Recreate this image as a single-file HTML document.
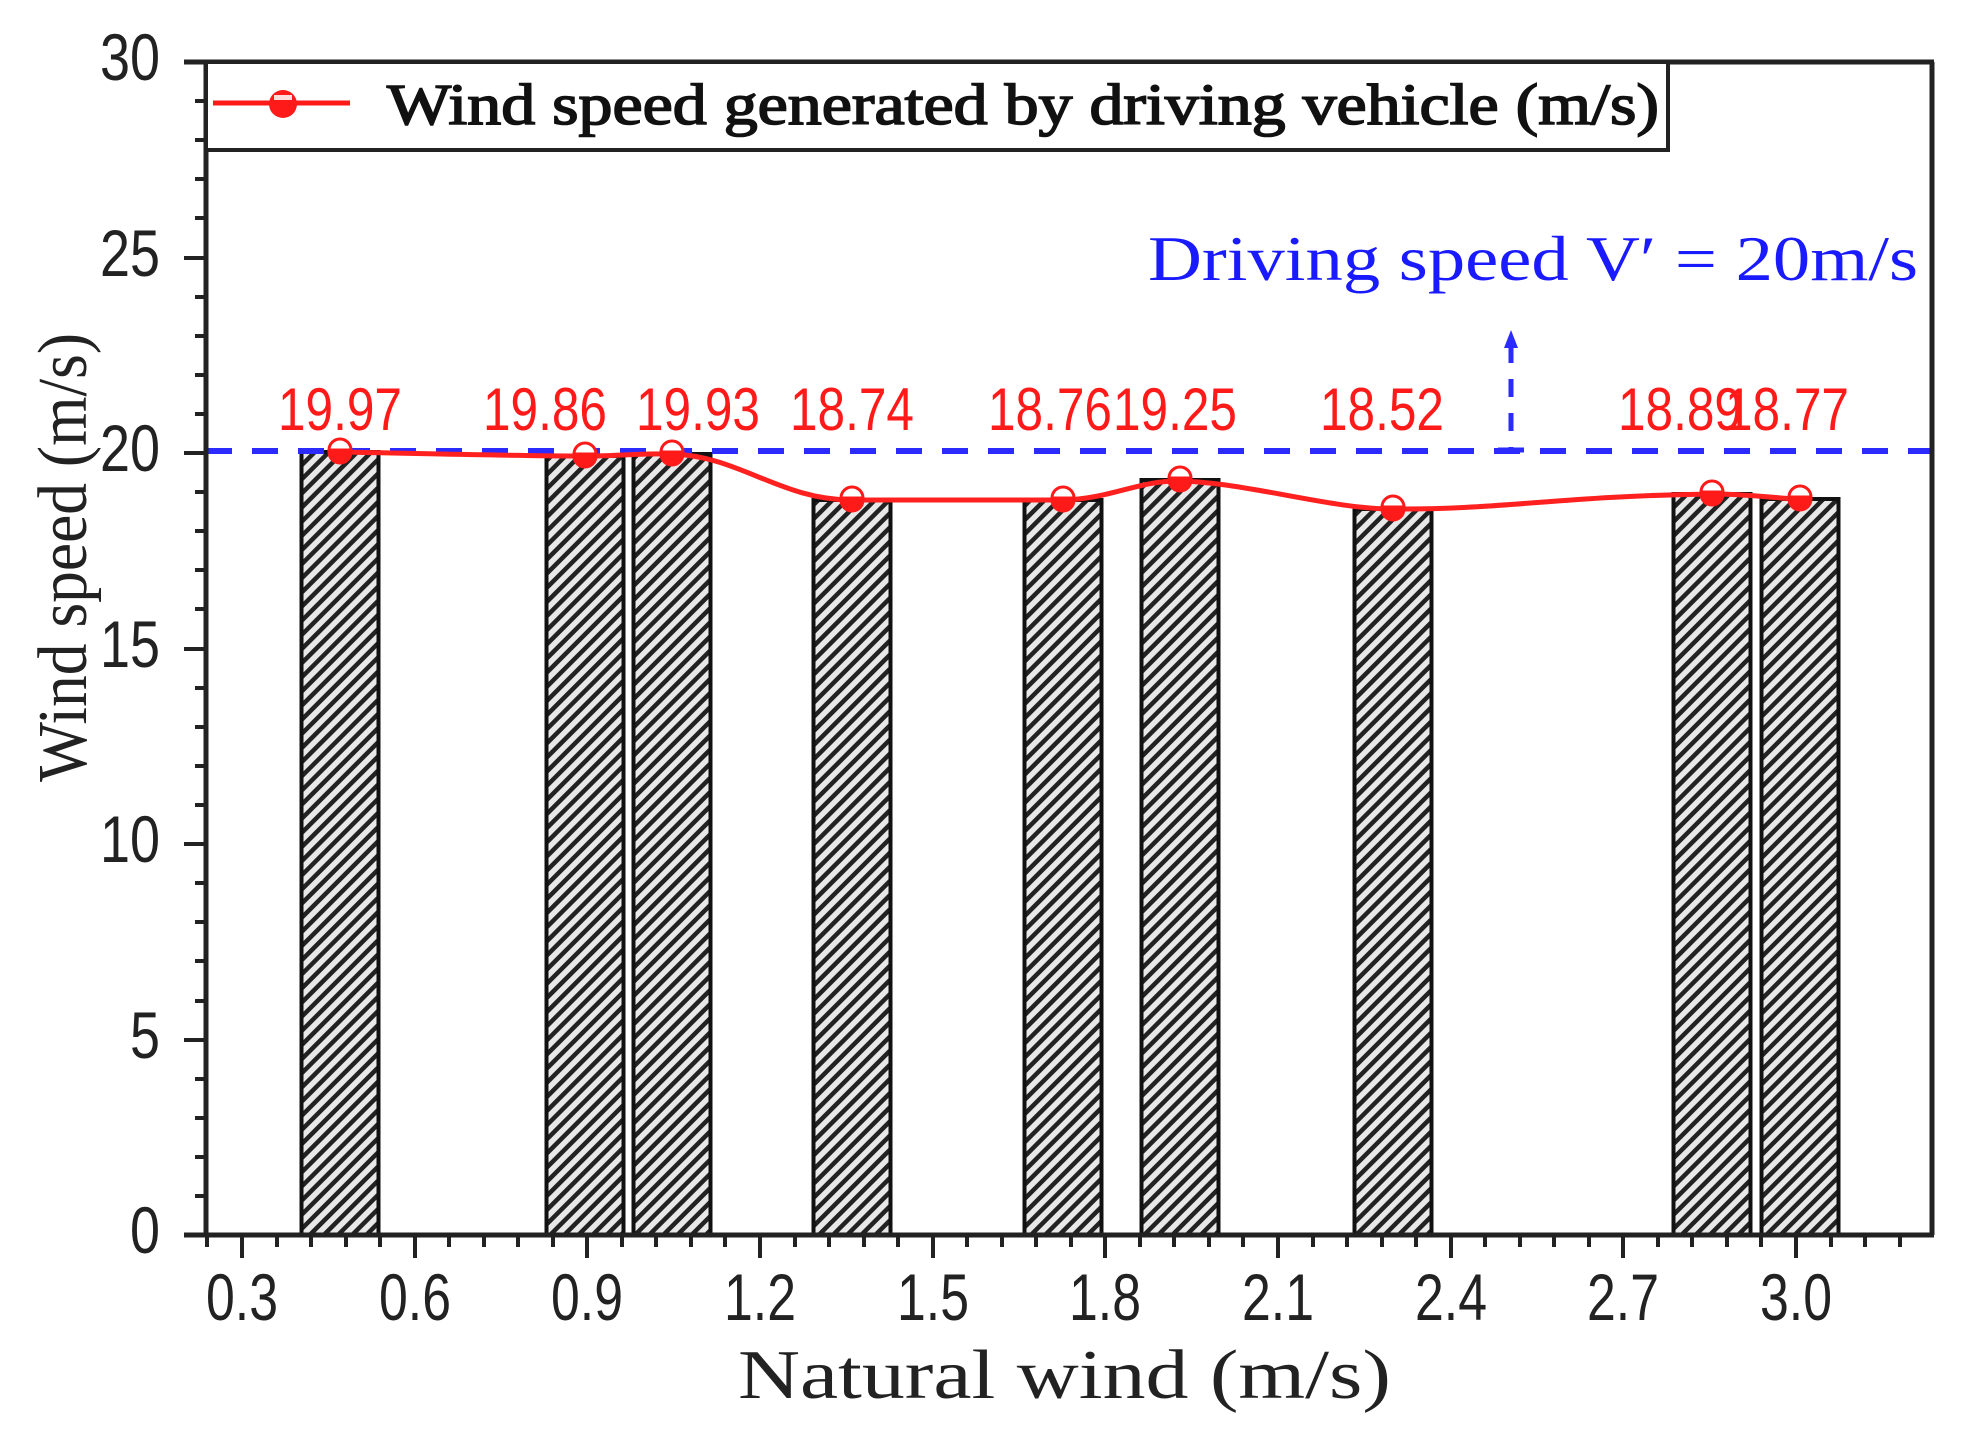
<!DOCTYPE html>
<html><head><meta charset="utf-8"><style>
html,body{margin:0;padding:0;background:#fff;}
svg{display:block;}
</style></head><body>
<svg width="1970" height="1437" viewBox="0 0 1970 1437" xmlns="http://www.w3.org/2000/svg">
<defs>
<pattern id="h" patternUnits="userSpaceOnUse" width="10" height="10" patternTransform="rotate(45)">
<rect width="10" height="10" fill="#e8e8e8"/>
<rect x="0" y="0" width="4.5" height="10" fill="#222"/>
</pattern>
</defs>
<rect width="1970" height="1437" fill="#fff"/>

<g stroke="#111" stroke-width="4" fill="url(#h)">
<rect x="301.5" y="452" width="77" height="783"/>
<rect x="546.5" y="456" width="77" height="779"/>
<rect x="633.5" y="454" width="77" height="781"/>
<rect x="813.5" y="500" width="77" height="735"/>
<rect x="1024.5" y="500" width="77" height="735"/>
<rect x="1141.5" y="480" width="77" height="755"/>
<rect x="1354.5" y="509" width="77" height="726"/>
<rect x="1673.5" y="494" width="77" height="741"/>
<rect x="1761.5" y="499" width="77" height="736"/>
</g>

<line x1="206" y1="451" x2="1932" y2="451" stroke="#2b2bff" stroke-width="6" stroke-dasharray="26 20"/>
<line x1="1511" y1="345" x2="1511" y2="450" stroke="#2b2bff" stroke-width="5" stroke-dasharray="18 16"/>
<polygon points="1511,330 1504,348 1518,348" fill="#2b2bff"/>
<line x1="1498" y1="450" x2="1524" y2="450" stroke="#2b2bff" stroke-width="5"/>

<path d="M340,452 C450,454 520,456 585,456 C620,456 640,453 672,454 C740,456 780,500 852,500 L1063,500 C1110,499 1140,480 1180,481 C1250,483 1330,509 1393,509 C1500,510 1560,496 1712,494 C1750,494 1770,498 1800,499" fill="none" stroke="#ff2020" stroke-width="5"/>
<g stroke="#ff1a1a" stroke-width="3">
<circle cx="340" cy="452" r="11" fill="#ff1a1a"/><path d="M329,450 A11,11 0 0 1 351,450 Z" fill="#fff"/>
<circle cx="585" cy="456" r="11" fill="#ff1a1a"/><path d="M574,454 A11,11 0 0 1 596,454 Z" fill="#fff"/>
<circle cx="672" cy="454" r="11" fill="#ff1a1a"/><path d="M661,452 A11,11 0 0 1 683,452 Z" fill="#fff"/>
<circle cx="852" cy="500" r="11" fill="#ff1a1a"/><path d="M841,498 A11,11 0 0 1 863,498 Z" fill="#fff"/>
<circle cx="1063" cy="500" r="11" fill="#ff1a1a"/><path d="M1052,498 A11,11 0 0 1 1074,498 Z" fill="#fff"/>
<circle cx="1180" cy="480" r="11" fill="#ff1a1a"/><path d="M1169,478 A11,11 0 0 1 1191,478 Z" fill="#fff"/>
<circle cx="1393" cy="509" r="11" fill="#ff1a1a"/><path d="M1382,507 A11,11 0 0 1 1404,507 Z" fill="#fff"/>
<circle cx="1712" cy="494" r="11" fill="#ff1a1a"/><path d="M1701,492 A11,11 0 0 1 1723,492 Z" fill="#fff"/>
<circle cx="1800" cy="499" r="11" fill="#ff1a1a"/><path d="M1789,497 A11,11 0 0 1 1811,497 Z" fill="#fff"/>
</g>

<g font-family="'Liberation Sans',sans-serif" font-size="60" fill="#ff1a1a" text-anchor="middle">
<text x="340" y="430" textLength="124" lengthAdjust="spacingAndGlyphs">19.97</text>
<text x="545" y="430" textLength="124" lengthAdjust="spacingAndGlyphs">19.86</text>
<text x="698" y="430" textLength="124" lengthAdjust="spacingAndGlyphs">19.93</text>
<text x="852" y="430" textLength="124" lengthAdjust="spacingAndGlyphs">18.74</text>
<text x="1050" y="430" textLength="124" lengthAdjust="spacingAndGlyphs">18.76</text>
<text x="1175" y="430" textLength="124" lengthAdjust="spacingAndGlyphs">19.25</text>
<text x="1382" y="430" textLength="124" lengthAdjust="spacingAndGlyphs">18.52</text>
<text x="1680" y="430" textLength="124" lengthAdjust="spacingAndGlyphs">18.89</text>
<text x="1787" y="430" textLength="124" lengthAdjust="spacingAndGlyphs">18.77</text>
</g>

<g stroke="#222" stroke-width="5" fill="none">
<line x1="206" y1="62" x2="206" y2="1235"/>
<line x1="184" y1="62" x2="1934" y2="62"/>
<line x1="1932" y1="62" x2="1932" y2="1235"/>
<line x1="184" y1="1235" x2="1934" y2="1235"/>
</g>
<rect x="206" y="62" width="1462" height="88" fill="#fff" stroke="#222" stroke-width="4"/>
<line x1="213" y1="103" x2="350" y2="103" stroke="#ff1a1a" stroke-width="5"/>
<circle cx="283" cy="104" r="14" fill="#ff1a1a"/>
<rect x="274" y="95" width="18" height="5" fill="#fdd"/>
<text x="387" y="124" font-family="'Liberation Serif',serif" font-size="58" stroke="#111" stroke-width="1.6" textLength="1272" lengthAdjust="spacingAndGlyphs" fill="#111">Wind speed generated by driving vehicle (m/s)</text>

<text x="1148" y="280" font-family="'Liberation Serif',serif" font-size="64" textLength="770" lengthAdjust="spacingAndGlyphs" fill="#1a1aff">Driving speed V′ = 20m/s</text>

<g stroke="#222" stroke-width="4">
<line x1="184" y1="62" x2="206" y2="62"/><line x1="184" y1="258" x2="206" y2="258"/><line x1="184" y1="453" x2="206" y2="453"/>
<line x1="184" y1="649" x2="206" y2="649"/><line x1="184" y1="844" x2="206" y2="844"/><line x1="184" y1="1040" x2="206" y2="1040"/>
</g>
<g stroke="#222" stroke-width="4">
<line x1="195" y1="101" x2="206" y2="101"/><line x1="195" y1="140" x2="206" y2="140"/><line x1="195" y1="179" x2="206" y2="179"/><line x1="195" y1="218" x2="206" y2="218"/>
<line x1="195" y1="297" x2="206" y2="297"/><line x1="195" y1="336" x2="206" y2="336"/><line x1="195" y1="375" x2="206" y2="375"/><line x1="195" y1="414" x2="206" y2="414"/>
<line x1="195" y1="492" x2="206" y2="492"/><line x1="195" y1="531" x2="206" y2="531"/><line x1="195" y1="570" x2="206" y2="570"/><line x1="195" y1="609" x2="206" y2="609"/>
<line x1="195" y1="688" x2="206" y2="688"/><line x1="195" y1="727" x2="206" y2="727"/><line x1="195" y1="766" x2="206" y2="766"/><line x1="195" y1="805" x2="206" y2="805"/>
<line x1="195" y1="883" x2="206" y2="883"/><line x1="195" y1="922" x2="206" y2="922"/><line x1="195" y1="961" x2="206" y2="961"/><line x1="195" y1="1001" x2="206" y2="1001"/>
<line x1="195" y1="1079" x2="206" y2="1079"/><line x1="195" y1="1118" x2="206" y2="1118"/><line x1="195" y1="1157" x2="206" y2="1157"/><line x1="195" y1="1196" x2="206" y2="1196"/>
</g>
<g font-family="'Liberation Sans',sans-serif" font-size="66" fill="#222" text-anchor="end">
<text x="160" y="80" textLength="60" lengthAdjust="spacingAndGlyphs">30</text>
<text x="160" y="276" textLength="60" lengthAdjust="spacingAndGlyphs">25</text>
<text x="160" y="471" textLength="60" lengthAdjust="spacingAndGlyphs">20</text>
<text x="160" y="667" textLength="60" lengthAdjust="spacingAndGlyphs">15</text>
<text x="160" y="862" textLength="60" lengthAdjust="spacingAndGlyphs">10</text>
<text x="160" y="1058" textLength="30" lengthAdjust="spacingAndGlyphs">5</text>
<text x="160" y="1253" textLength="30" lengthAdjust="spacingAndGlyphs">0</text>
</g>

<g stroke="#222" stroke-width="4">
<line x1="242" y1="1235" x2="242" y2="1258"/><line x1="415" y1="1235" x2="415" y2="1258"/><line x1="587" y1="1235" x2="587" y2="1258"/>
<line x1="760" y1="1235" x2="760" y2="1258"/><line x1="933" y1="1235" x2="933" y2="1258"/><line x1="1105" y1="1235" x2="1105" y2="1258"/>
<line x1="1278" y1="1235" x2="1278" y2="1258"/><line x1="1451" y1="1235" x2="1451" y2="1258"/><line x1="1623" y1="1235" x2="1623" y2="1258"/>
<line x1="1796" y1="1235" x2="1796" y2="1258"/>
</g>
<g stroke="#222" stroke-width="4">
<line x1="207" y1="1235" x2="207" y2="1247"/>
<line x1="277" y1="1235" x2="277" y2="1247"/><line x1="311" y1="1235" x2="311" y2="1247"/><line x1="346" y1="1235" x2="346" y2="1247"/><line x1="380" y1="1235" x2="380" y2="1247"/>
<line x1="449" y1="1235" x2="449" y2="1247"/><line x1="484" y1="1235" x2="484" y2="1247"/><line x1="518" y1="1235" x2="518" y2="1247"/><line x1="553" y1="1235" x2="553" y2="1247"/>
<line x1="622" y1="1235" x2="622" y2="1247"/><line x1="656" y1="1235" x2="656" y2="1247"/><line x1="691" y1="1235" x2="691" y2="1247"/><line x1="725" y1="1235" x2="725" y2="1247"/>
<line x1="795" y1="1235" x2="795" y2="1247"/><line x1="829" y1="1235" x2="829" y2="1247"/><line x1="864" y1="1235" x2="864" y2="1247"/><line x1="898" y1="1235" x2="898" y2="1247"/>
<line x1="967" y1="1235" x2="967" y2="1247"/><line x1="1002" y1="1235" x2="1002" y2="1247"/><line x1="1036" y1="1235" x2="1036" y2="1247"/><line x1="1071" y1="1235" x2="1071" y2="1247"/>
<line x1="1140" y1="1235" x2="1140" y2="1247"/><line x1="1174" y1="1235" x2="1174" y2="1247"/><line x1="1209" y1="1235" x2="1209" y2="1247"/><line x1="1243" y1="1235" x2="1243" y2="1247"/>
<line x1="1313" y1="1235" x2="1313" y2="1247"/><line x1="1347" y1="1235" x2="1347" y2="1247"/><line x1="1382" y1="1235" x2="1382" y2="1247"/><line x1="1416" y1="1235" x2="1416" y2="1247"/>
<line x1="1485" y1="1235" x2="1485" y2="1247"/><line x1="1520" y1="1235" x2="1520" y2="1247"/><line x1="1554" y1="1235" x2="1554" y2="1247"/><line x1="1589" y1="1235" x2="1589" y2="1247"/>
<line x1="1658" y1="1235" x2="1658" y2="1247"/><line x1="1692" y1="1235" x2="1692" y2="1247"/><line x1="1727" y1="1235" x2="1727" y2="1247"/><line x1="1761" y1="1235" x2="1761" y2="1247"/>
<line x1="1831" y1="1235" x2="1831" y2="1247"/><line x1="1865" y1="1235" x2="1865" y2="1247"/><line x1="1900" y1="1235" x2="1900" y2="1247"/>
</g>
<g font-family="'Liberation Sans',sans-serif" font-size="66" fill="#222" text-anchor="middle">
<text x="242" y="1320" textLength="72" lengthAdjust="spacingAndGlyphs">0.3</text>
<text x="415" y="1320" textLength="72" lengthAdjust="spacingAndGlyphs">0.6</text>
<text x="587" y="1320" textLength="72" lengthAdjust="spacingAndGlyphs">0.9</text>
<text x="760" y="1320" textLength="72" lengthAdjust="spacingAndGlyphs">1.2</text>
<text x="933" y="1320" textLength="72" lengthAdjust="spacingAndGlyphs">1.5</text>
<text x="1105" y="1320" textLength="72" lengthAdjust="spacingAndGlyphs">1.8</text>
<text x="1278" y="1320" textLength="72" lengthAdjust="spacingAndGlyphs">2.1</text>
<text x="1451" y="1320" textLength="72" lengthAdjust="spacingAndGlyphs">2.4</text>
<text x="1623" y="1320" textLength="72" lengthAdjust="spacingAndGlyphs">2.7</text>
<text x="1796" y="1320" textLength="72" lengthAdjust="spacingAndGlyphs">3.0</text>
</g>

<text x="738" y="1398" font-family="'Liberation Serif',serif" font-size="70" textLength="653" lengthAdjust="spacingAndGlyphs" fill="#222">Natural wind (m/s)</text>
<text transform="translate(86,782) rotate(-90)" x="0" y="0" font-family="'Liberation Serif',serif" font-size="70" textLength="449" lengthAdjust="spacingAndGlyphs" fill="#222">Wind speed (m/s)</text>
</svg>
</body></html>
